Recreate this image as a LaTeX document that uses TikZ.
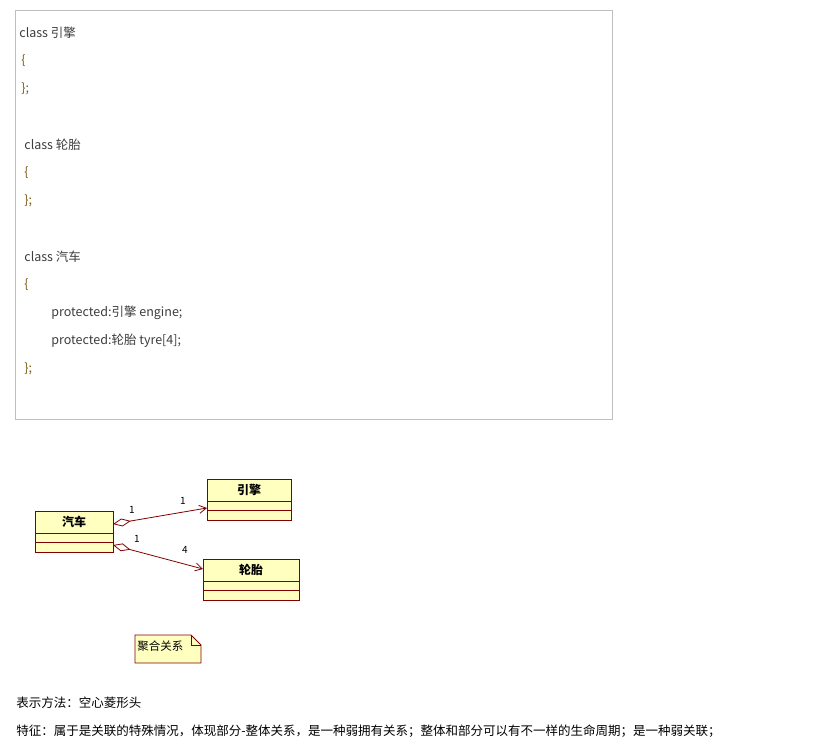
\documentclass[tikz,border=0pt]{standalone}
\usepackage{fontspec}
\setmainfont{Noto Sans CJK SC}
\usetikzlibrary{arrows.meta,positioning,shapes.misc}
\definecolor{umlred}{RGB}{128,0,0}
\definecolor{umlfill}{RGB}{255,255,192}
\definecolor{codegray}{RGB}{60,60,60}
\definecolor{bracecol}{RGB}{120,90,20}
\begin{document}
\begin{tikzpicture}
  [
  x=1pt, y=-1pt, line width=0.8pt,
  codeline/.style={anchor=west, inner sep=0pt, text=codegray, font=\fontsize{12.5}{14}\selectfont},
  brace/.style={codeline, text=bracecol},
  plaintext/.style={anchor=west, inner sep=0pt, text=black, font=\fontsize{12.5}{14}\selectfont},
  umltext/.style={inner sep=0pt, font=\bfseries\fontsize{12}{14}\selectfont},
  small/.style={inner sep=0pt, font=\fontsize{10}{12}\selectfont},
  aggr/.style={draw=umlred, line width=0.8pt, {Diamond[open,length=18pt,width=8pt]}-{Straight Barb[length=7pt,width=8pt]}}
  ]
  \useasboundingbox (0,0) rectangle (831,750);

  % code box
  \draw[draw=black!25, line width=1pt] (15,10) rectangle (612,419);
  \node[codeline] (l1) at (19,33) {class 引擎};
  \node[brace] (l2) at (21,61) {\{};
  \node[brace] (l3) at (21,89) {\};};
  \node[codeline] (l4) at (24,145) {class 轮胎};
  \node[brace] (l5) at (24,173) {\{};
  \node[brace] (l6) at (24,201) {\};};
  \node[codeline] (l7) at (24,257) {class 汽车};
  \node[brace] (l8) at (24,285) {\{};
  \node[codeline] (l9) at (51,313) {protected:引擎 engine;};
  \node[codeline] (l10) at (51,341) {protected:轮胎 tyre[4];};
  \node[brace] (l11) at (24,369) {\};};

  % classes
  \foreach \name/\txt/\xa/\ya/\xb in {car/汽车/35/511/113, engine/引擎/207/479/291, tyre/轮胎/203/559/299} {
    \draw[draw=umlred, fill=umlfill, line width=0.8pt] (\xa,\ya) rectangle (\xb,\ya+41);
    \draw[draw=umlred, line width=0.8pt] (\xa,\ya+22) -- (\xb,\ya+22) (\xa,\ya+31) -- (\xb,\ya+31);
    \node[umltext] (\name) at ({(\xa+\xb)/2},\ya+11) {\txt};
  }
  \coordinate (car1) at (113,524);
  \coordinate (car2) at (113,545);
  \coordinate (eng) at (207,508);
  \coordinate (tyr) at (203,569);
  \draw[aggr] (car1) -- (eng);
  \draw[aggr] (car2) -- (tyr);
  \node[small] (m1) at (132,510) {1};
  \node[small] (m2) at (183,501) {1};
  \node[small] (m3) at (137,539) {1};
  \node[small] (m4) at (185,550) {4};

  % note
  \draw[draw=umlred, fill=umlfill, line width=0.8pt] (135,635) -- (191,635) -- (201,645) -- (201,663) -- (135,663) -- cycle;
  \draw[draw=umlred, line width=0.8pt] (191,635) -- (191,645) -- (201,645);
  \node[small, anchor=west, font=\fontsize{11.5}{13}\selectfont] (note) at (137,646) {聚合关系};

  % description
  \node[plaintext] (t1) at (16,703) {表示方法：空心菱形头};
  \node[plaintext] (t2) at (16,731) {特征：属于是关联的特殊情况，体现部分-整体关系，是一种弱拥有关系；整体和部分可以有不一样的生命周期；是一种弱关联；};
\end{tikzpicture}
\end{document}
